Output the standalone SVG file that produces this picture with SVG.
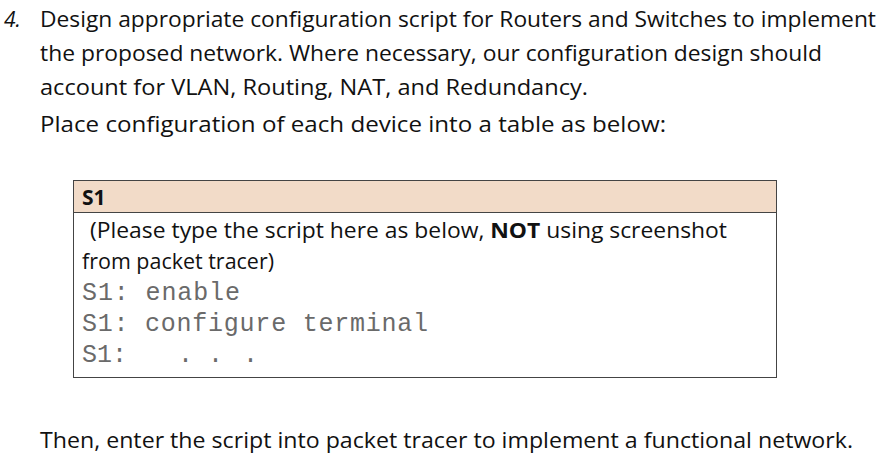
<svg xmlns="http://www.w3.org/2000/svg" width="882" height="457" viewBox="0 0 882 457">
<style>
.t{font-family:"Open Sans","Noto Sans",sans-serif;font-size:21px;fill:#111}
.m{font-family:"Liberation Mono",monospace;font-size:25px;fill:#6a6a6a}
</style>
<rect width="882" height="457" fill="#fff"/>
<text class="t" x="4" y="27" font-style="italic">4.</text>
<text class="t" x="40" y="27" textLength="836" lengthAdjust="spacingAndGlyphs">Design appropriate configuration script for Routers and Switches to implement</text>
<text class="t" x="40" y="61" textLength="782" lengthAdjust="spacingAndGlyphs">the proposed network. Where necessary, our configuration design should</text>
<text class="t" x="40" y="95" textLength="548" lengthAdjust="spacingAndGlyphs">account for VLAN, Routing, NAT, and Redundancy.</text>
<text class="t" x="40" y="132" textLength="626" lengthAdjust="spacingAndGlyphs">Place configuration of each device into a table as below:</text>
<g id="table">
<rect x="73.5" y="180.5" width="703" height="32" fill="#F2DBC8" stroke="#444"/>
<rect x="73.5" y="212.5" width="703" height="165" fill="none" stroke="#444"/>
<text class="t" x="82" y="205" font-weight="bold">S1</text>
<text class="t" x="90" y="238" textLength="637" lengthAdjust="spacingAndGlyphs">(Please type the script here as below, <tspan font-weight="bold">NOT</tspan> using screenshot</text>
<text class="t" x="82" y="269" textLength="192" lengthAdjust="spacingAndGlyphs">from packet tracer)</text>
<text class="m" x="82" y="300" textLength="158">S1: enable</text>
<text class="m" x="82" y="331" textLength="346">S1: configure terminal</text>
<text class="m" x="82" y="362">S1:</text>
<text class="m" x="178" y="362">.</text>
<text class="m" x="208" y="362">.</text>
<text class="m" x="243" y="362">.</text>
</g>
<text class="t" x="40" y="448" textLength="813" lengthAdjust="spacingAndGlyphs">Then, enter the script into packet tracer to implement a functional network.</text>
</svg>
